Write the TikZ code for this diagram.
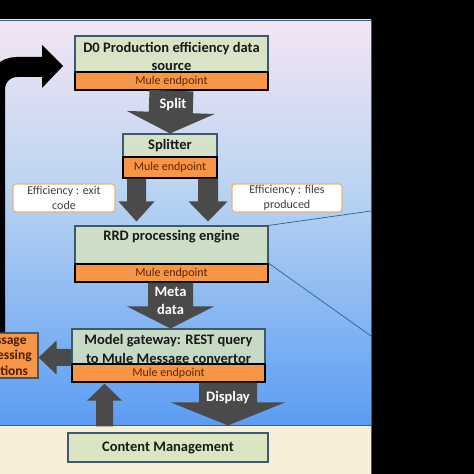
\documentclass[tikz,border=0pt]{standalone}
\usepackage{fontspec}
\setmainfont{Carlito}
\usetikzlibrary{calc}
\definecolor{pTop}{HTML}{F3E5F3}
\definecolor{pMid}{HTML}{BCD5F2}
\definecolor{pBot}{HTML}{5B9DF3}
\definecolor{beige}{HTML}{F6EED8}
\definecolor{boxgreen}{HTML}{D7E4BD}
\definecolor{boxline}{HTML}{3B5A6E}
\definecolor{orangefill}{HTML}{F79646}
\definecolor{mulecol}{HTML}{5E2400}
\definecolor{arrowgray}{HTML}{4A4A4A}
\definecolor{panelline}{HTML}{2F5F8F}
\definecolor{labelline}{HTML}{F0B070}
\tikzset{
  gbox/.style={draw=boxline, line width=1.1pt, fill=boxgreen, fill opacity=0.82, text opacity=1, inner sep=0pt},
  obox/.style={draw=black, line width=1.4pt, fill=orangefill, inner sep=0pt, text=mulecol, font=\fontsize{12}{14}\selectfont},
  titletext/.style={font=\bfseries\fontsize{14.5}{18.5}\selectfont, align=center, text=black!90, inner sep=0pt},
  arrowtext/.style={font=\bfseries\fontsize{14.5}{18}\selectfont, align=center, text=white, inner sep=0pt},
  effbox/.style={draw=labelline, line width=1.2pt, fill=white, rounded corners=3pt, align=center, text=black!75, font=\fontsize{12}{15}\selectfont, inner sep=0pt},
  procbox/.style={draw=boxline, line width=1.1pt, fill=orangefill, inner sep=0pt},
  proctext/.style={align=center, text=mulecol!80!black, font=\bfseries\fontsize{13.5}{15.5}\selectfont, inner sep=0pt},
  garrow/.style={fill=arrowgray},
  zoomline/.style={draw=panelline, line width=0.7pt}
}
\newcommand\blockarrow[5]{%
  \fill[garrow] let \p1=(#1), \p2=(#2), \n1={atan2(\y2-\y1,\x2-\x1)}, \n2={veclen(\x2-\x1,\y2-\y1)} in
    ($(\p1)+(\n1+90:#3)$) -- ($(\p1)+(\n1:\n2-#5)+(\n1+90:#3)$) -- ($(\p1)+(\n1:\n2-#5)+(\n1+90:#4)$)
    -- (\p2) -- ($(\p1)+(\n1:\n2-#5)+(\n1-90:#4)$) -- ($(\p1)+(\n1:\n2-#5)+(\n1-90:#3)$)
    -- ($(\p1)+(\n1-90:#3)$) -- cycle;}
\begin{document}
\begin{tikzpicture}[x=1pt,y=1pt]
\useasboundingbox (0,0) rectangle (474,474);
\clip (0,0) rectangle (474,474);
\fill[black] (0,0) rectangle (474,474);
% panel
\shade[top color=pTop, bottom color=pMid] (0,290) rectangle (371,454);
\shade[top color=pMid, bottom color=pBot] (0,49) rectangle (371,290.5);
\fill[beige] (0,0) rectangle (371,49);
\draw[panelline, line width=0.8pt] (0,49) -- (371,49);
\draw[panelline, line width=0.8pt] (371,0) -- (371,454) -- (0,454);
\coordinate (edgeA) at (371,263);
\coordinate (edgeB) at (371,138);
% D0
\node[gbox, minimum width=193pt, minimum height=36pt] (d0) at (171.5,420) {};
\node[titletext] (d0t) at (171.5,417.5) {D0 Production efficiency data\\source};
\node[obox, minimum width=193pt, minimum height=18pt] (d0e) at (171.5,393) {Mule endpoint};
% Splitter
\node[gbox, minimum width=94pt, minimum height=23pt] (spl) at (170,328.5) {};
\node[titletext] (splt) at (170,328.5) {Splitter};
\node[obox, minimum width=94pt, minimum height=21pt] (sple) at (170,306.5) {Mule endpoint};
% RRD
\node[gbox, minimum width=193pt, minimum height=38pt] (rrd) at (171.5,229) {};
\node[titletext] (rrdt) at (171.5,237) {RRD processing engine};
\node[obox, minimum width=193pt, minimum height=18pt] (rrde) at (171.5,201) {Mule endpoint};
% Model gateway
\node[gbox, minimum width=193pt, minimum height=35pt] (mg) at (168.5,127.5) {};
\node[titletext] (mgt) at (168.5,124) {Model gateway: REST query\\to Mule Message convertor};
\node[obox, minimum width=193pt, minimum height=18pt] (mge) at (168.5,101) {Mule endpoint};
% Content management
\node[gbox, minimum width=200pt, minimum height=29pt] (cm) at (168,26.5) {};
\node[titletext] (cmt) at (168,26.5) {Content Management};
% processing functions
\node[procbox, minimum width=80pt, minimum height=45pt] (proc) at (-2,118.5) {};
\node[proctext] (proct) at (2,118.5) {Message\\processing\\functions};
% labels
\node[effbox, minimum width=102pt, minimum height=28pt] (effA) at (64,276) {Efficiency : exit\\code};
\node[effbox, minimum width=110pt, minimum height=28pt] (effB) at (287,276) {Efficiency : files\\produced};
% zoom lines
\draw[zoomline] (rrd.north east) -- (edgeA);
\draw[zoomline] (rrde.north east) -- (edgeB);
% block arrows
\blockarrow{d0e.south}{spl.north}{22}{44}{21}
\blockarrow{$(sple.south)+(-33.5,0)$}{$(rrd.north)+(-35,4)$}{9.5}{18}{20}
\blockarrow{$(sple.south)+(38,0)$}{$(rrd.north)+(36.5,4)$}{10}{19.5}{20}
\blockarrow{$(rrde.south)+(-1,0)$}{$(mg.north)+(2,0)$}{22.5}{43.5}{22}
\blockarrow{$(mg.west)+(0,-11)$}{$(proc.east)+(0,-2)$}{8.5}{17}{18}
\blockarrow{$(cm.north)+(-63.5,6)$}{$(mge.south)+(-64,-1)$}{8.5}{17.5}{17}
\blockarrow{$(mge.south)+(59.5,0)$}{$(cm.north)+(60,7)$}{29}{57}{23}
\node[arrowtext] (splitlbl) at (173,369) {Split};
\node[arrowtext] (metalbl) at (170.5,173) {Meta\\data};
\node[arrowtext] (displbl) at (228,76) {Display};
% black loop arrow
\coordinate (loopEnd) at (43,407);
\coordinate (loopTip) at (63,408);
\draw[black, line width=20pt, rounded corners=22pt] ($(proc.north)+(-3,0)$) |- (loopEnd);
\fill[black] ($(loopEnd)+(-1,22)$) -- (loopTip) -- ($(loopEnd)+(-1,-21)$) -- cycle;
\end{tikzpicture}
\end{document}
